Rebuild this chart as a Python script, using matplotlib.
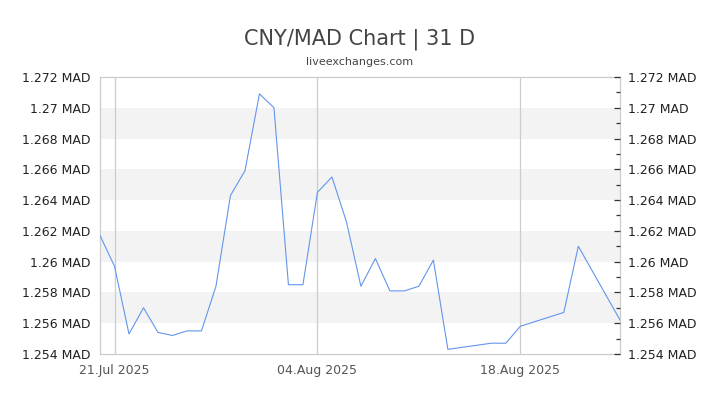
import numpy as np
import pandas as pd
import matplotlib
matplotlib.use("Agg")
import matplotlib.pyplot as plt
import matplotlib.dates as mdates
from matplotlib.ticker import MultipleLocator, FuncFormatter

# --- Data ---
dates = pd.to_datetime([
    "2025-07-20", "2025-07-21", "2025-07-22", "2025-07-23", "2025-07-24",
    "2025-07-25", "2025-07-26", "2025-07-27", "2025-07-28", "2025-07-29",
    "2025-07-30", "2025-07-31", "2025-08-01", "2025-08-02", "2025-08-03",
    "2025-08-04", "2025-08-05", "2025-08-06", "2025-08-07", "2025-08-08",
    "2025-08-09", "2025-08-10", "2025-08-11", "2025-08-12", "2025-08-13",
    "2025-08-16", "2025-08-17", "2025-08-18", "2025-08-21", "2025-08-22",
    "2025-08-25",
])
rates = [
    1.2617, 1.2597, 1.2553, 1.2570, 1.2554,
    1.2552, 1.2555, 1.2555, 1.2584, 1.2643,
    1.2659, 1.2709, 1.2700, 1.2585, 1.2585,
    1.2645, 1.2655, 1.2626, 1.2584, 1.2602,
    1.2581, 1.2581, 1.2584, 1.2601, 1.2543,
    1.2547, 1.2547, 1.2558, 1.2567, 1.2610,
    1.2560,
]
xtick_dates = pd.to_datetime(["2025-07-21", "2025-08-04", "2025-08-18"])
y_min, y_max = 1.254, 1.272

def mad_fmt(v, pos):
    s = f"{v:.3f}".rstrip("0").rstrip(".")
    return f"{s} MAD"

# --- Plotting ---
fig = plt.figure(figsize=(7.2, 4.05), dpi=100)
ax = fig.add_axes([0.1389, 0.126, 0.7222, 0.684])

# alternating bands
for lo in np.arange(1.256, y_max, 0.004):
    ax.axhspan(lo, lo + 0.002, color="#f3f3f3", zorder=0, lw=0)

for d in xtick_dates:
    ax.axvline(d, color="#cccccc", lw=0.9, zorder=1)

ax.plot(dates, rates, color="#6495ed", lw=0.8, zorder=3)

ax.set_xlim(pd.Timestamp("2025-07-20"), pd.Timestamp("2025-08-24 21:00"))
ax.set_ylim(y_min, y_max)

ax.yaxis.set_major_locator(MultipleLocator(0.002))
ax.yaxis.set_major_formatter(FuncFormatter(mad_fmt))
ax.tick_params(axis="y", length=0, pad=7, labelsize=9, labelcolor="#222222")

ax.set_xticks(xtick_dates)
ax.xaxis.set_major_formatter(mdates.DateFormatter("%d.%b %Y"))
ax.tick_params(axis="x", length=0, pad=7, labelsize=9, labelcolor="#555555")

for s in ax.spines.values():
    s.set_color("#cccccc")
    s.set_linewidth(0.9)

ax2 = ax.twinx()
ax2.set_ylim(y_min, y_max)
ax2.yaxis.set_major_locator(MultipleLocator(0.002))
ax2.yaxis.set_minor_locator(MultipleLocator(0.001))
ax2.yaxis.set_major_formatter(FuncFormatter(mad_fmt))
ax2.tick_params(axis="y", which="major", direction="in", length=4, width=0.9,
                color="#333333", pad=6, labelsize=9, labelcolor="#222222")
ax2.tick_params(axis="y", which="minor", direction="in", length=3, width=0.9,
                color="#333333")
for s in ax2.spines.values():
    s.set_visible(False)

fig.text(0.5, 1 - 39 / 405, "CNY/MAD Chart | 31 D", ha="center", va="center",
         fontsize=15, color="#444444")
fig.text(0.5, 1 - 62 / 405, "liveexchanges.com", ha="center", va="center",
         fontsize=8, color="#444444")

fig.savefig("out.png", dpi=100)
